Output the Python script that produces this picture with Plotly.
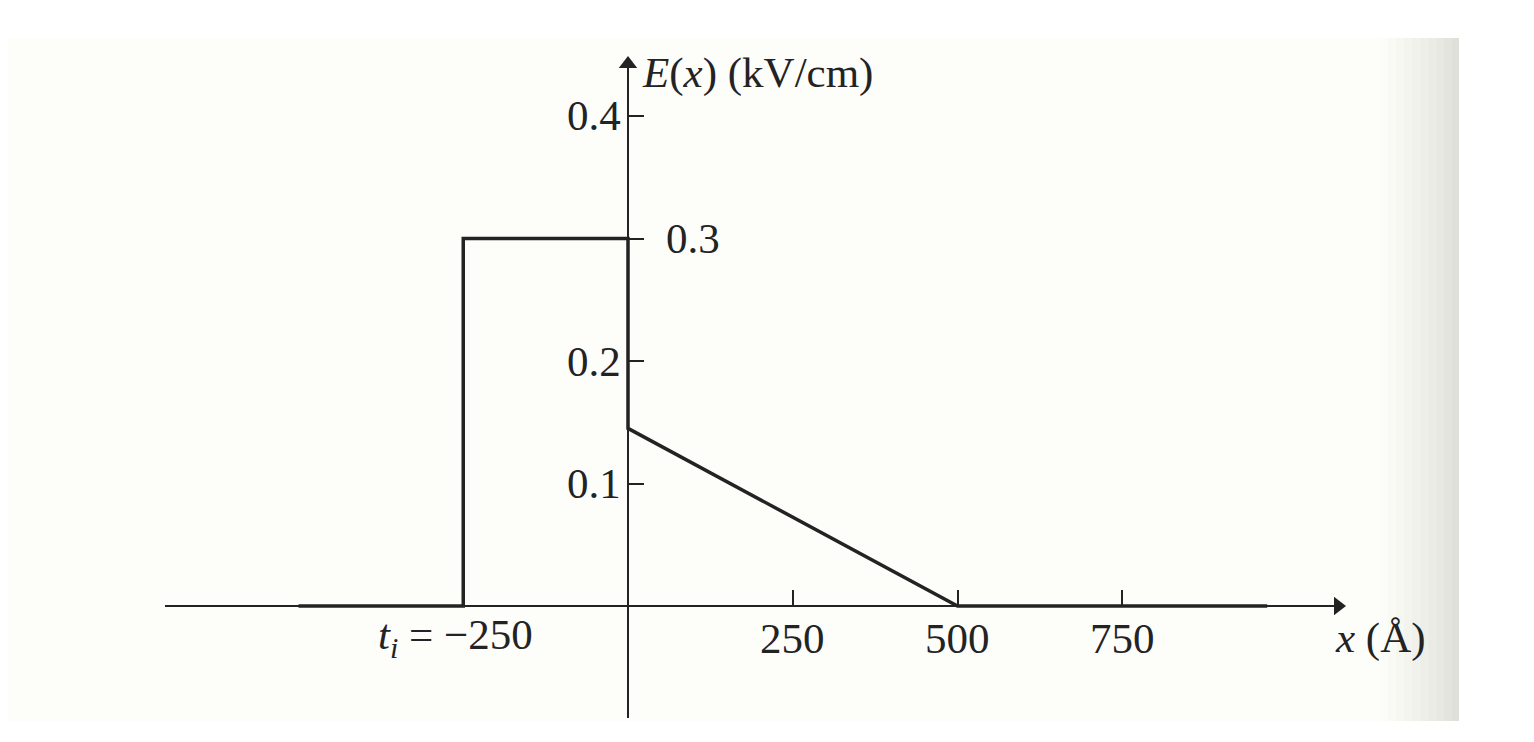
import plotly.graph_objects as go

# ---- data ----
x_pos = [-500, -250, -250, 0, 0, 500, 970]          # x (Å)
e_field = [0, 0, 0.3, 0.3, 0.145, 0, 0]              # E(x) (kV/cm)
x_tick_vals = [-250, 250, 500, 750]
x_tick_text = ["<i>t</i><sub><i>i</i></sub> = −250", "250", "500", "750"]
y_tick_vals = [0.1, 0.2, 0.3, 0.4]
y_tick_text = ["0.1", "0.2", "0.3", "0.4"]

W, H = 1534, 742
OFF = 8  # page body margin offset

def px(xp):
    return (xp - OFF) / W

def py(yp):
    return (H - (yp - OFF)) / H

ORIGIN_PX, ZERO_PY = 628, 606
PX_PER_X = 0.659
PX_PER_Y = 1225.0
X_LEFT_PX, X_RIGHT_PX = 165, 1338
Y_BOT_PY, Y_TOP_PY = 718, 64

xr = [(X_LEFT_PX - ORIGIN_PX) / PX_PER_X, (X_RIGHT_PX - ORIGIN_PX) / PX_PER_X]
yr = [(ZERO_PY - Y_BOT_PY) / PX_PER_Y, (ZERO_PY - Y_TOP_PY) / PX_PER_Y]

INK = "#232323"
FONT = "Liberation Serif"
FS = 43

fig = go.Figure()
fig.add_trace(go.Scatter(x=x_pos, y=e_field, mode="lines",
                         line=dict(color=INK, width=3.5),
                         hoverinfo="skip", showlegend=False, cliponaxis=False))
# arrowheads at the ends of the axes
fig.add_trace(go.Scatter(x=[xr[1]], y=[0], mode="markers",
                         marker=dict(symbol="triangle-right", size=16, color=INK),
                         hoverinfo="skip", showlegend=False, cliponaxis=False))
fig.add_trace(go.Scatter(x=[0], y=[yr[1]], mode="markers",
                         marker=dict(symbol="triangle-up", size=16, color=INK),
                         hoverinfo="skip", showlegend=False, cliponaxis=False))

fig.update_layout(
    width=W, height=H,
    margin=dict(l=0, r=0, t=0, b=0),
    paper_bgcolor="white", plot_bgcolor="rgba(0,0,0,0)",
    showlegend=False,
    font=dict(family=FONT, color=INK, size=FS),
    xaxis=dict(domain=[px(X_LEFT_PX), px(X_RIGHT_PX)], range=xr,
               anchor="free", position=py(ZERO_PY),
               showline=True, linecolor=INK, linewidth=2,
               ticks="inside", ticklen=15, tickwidth=2, tickcolor=INK,
               tickvals=x_tick_vals, showticklabels=False,
               showgrid=False, zeroline=False, fixedrange=True),
    yaxis=dict(domain=[py(Y_BOT_PY), py(Y_TOP_PY)], range=yr,
               anchor="free", position=px(ORIGIN_PX),
               showline=True, linecolor=INK, linewidth=2,
               ticks="inside", ticklen=15, tickwidth=2, tickcolor=INK,
               tickvals=y_tick_vals, showticklabels=False,
               showgrid=False, zeroline=False, fixedrange=True),
)

# scanned page background (decoration)
fig.add_shape(type="rect", xref="paper", yref="paper", layer="below",
              x0=0, x1=px(1459), y0=py(721), y1=py(38),
              fillcolor="#fdfdfa", line=dict(width=0))
grad = ["#fcfcf8", "#fafaf5", "#f7f7f2", "#f4f4ef", "#f1f1ec", "#eeeee9",
        "#ebebe6", "#e8e8e2", "#e4e4de", "#e0e0da"]
step = (1459 - 1380) / len(grad)
for i, c in enumerate(grad):
    fig.add_shape(type="rect", xref="paper", yref="paper", layer="below",
                  x0=px(1380 + i * step), x1=px(1380 + (i + 1) * step),
                  y0=py(721), y1=py(38),
                  fillcolor=c, line=dict(width=0))

# x tick labels
x_shift = {-250: -8}
for v, t in zip(x_tick_vals, x_tick_text):
    fig.add_annotation(x=v, y=0, xref="x", yref="y", text=t, showarrow=False,
                       xanchor="center", yanchor="middle",
                       xshift=x_shift.get(v, 0), yshift=-32,
                       font=dict(family=FONT, size=FS, color=INK))

# y tick labels (0.3 sits on the right of the axis)
for v, t in zip(y_tick_vals, y_tick_text):
    right_side = (v == 0.3)
    fig.add_annotation(x=0, y=v, xref="x", yref="y", text=t, showarrow=False,
                       xanchor="left" if right_side else "right",
                       yanchor="middle",
                       xshift=36 if right_side else -5,
                       font=dict(family=FONT, size=FS, color=INK))

# axis titles
fig.add_annotation(x=px(640), y=py(73), xref="paper", yref="paper",
                   text="<i>E</i>(<i>x</i>) (kV/cm)", showarrow=False,
                   xanchor="left", yanchor="middle",
                   font=dict(family=FONT, size=FS, color=INK))
fig.add_annotation(x=px(1380), y=py(638), xref="paper", yref="paper",
                   text="<i>x</i> (Å)", showarrow=False,
                   xanchor="center", yanchor="middle",
                   font=dict(family=FONT, size=FS, color=INK))

fig.write_html("out.html")
